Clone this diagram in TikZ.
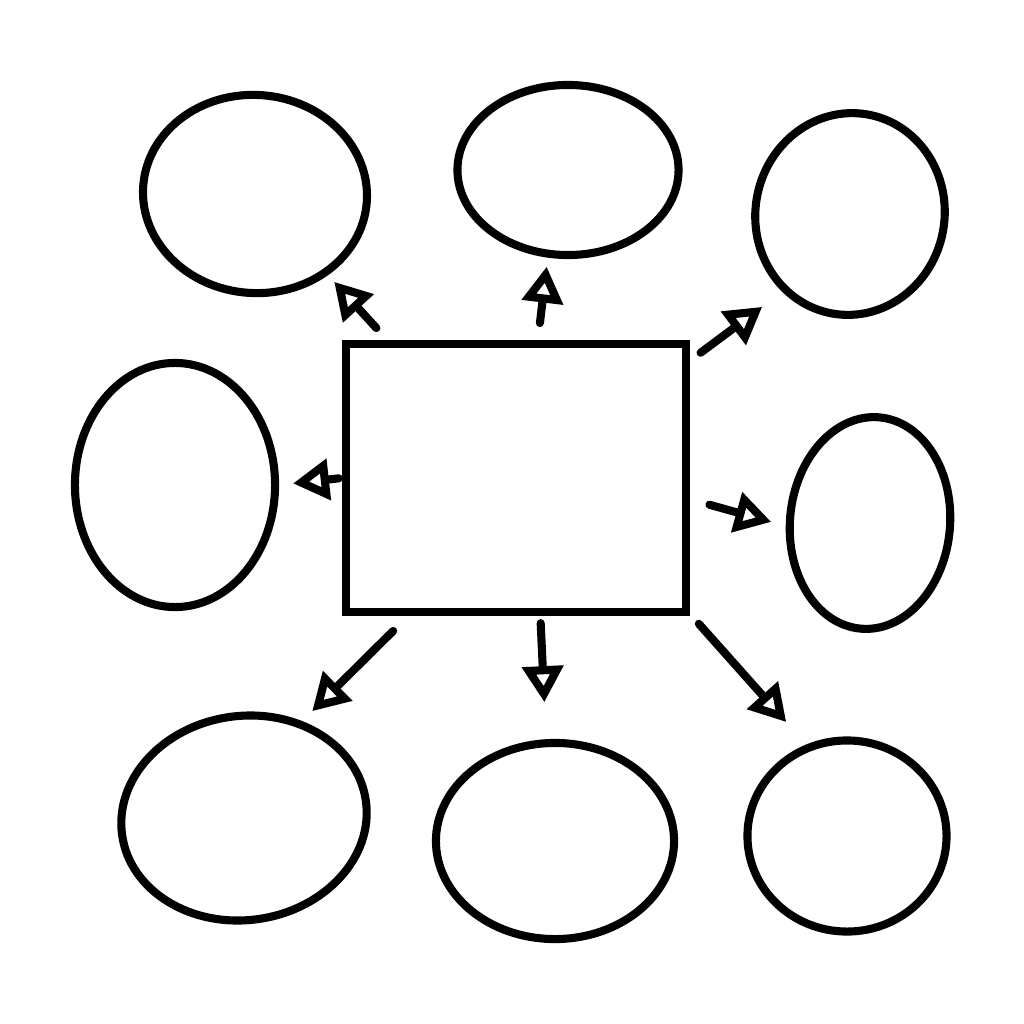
\documentclass[tikz,border=0pt]{standalone}
\usepackage{tikz}
\usetikzlibrary{shapes.geometric,arrows.meta}

\tikzset{
  blob/.style={draw,ellipse,line width=2.3pt,inner sep=0pt},
  centrebox/.style={draw,rectangle,line width=2.3pt,inner sep=0pt,minimum width=3.4cm,minimum height=2.68cm},
  pointer/.style={line width=2.3pt,line cap=round,line join=round,-{Triangle[open,length=3.6mm,width=4mm]}}
}

\begin{document}
\begin{tikzpicture}[x=0.01cm,y=-0.01cm]
\useasboundingbox (0,0) rectangle (1024,1024);

\node[centrebox] (box) at (516,478) {};

\node[blob,minimum width=2.24cm,minimum height=1.98cm,rotate=-4] (topleft) at (255,194) {};
\node[blob,minimum width=2.21cm,minimum height=1.70cm] (topmid) at (568,170) {};
\node[blob,minimum width=1.89cm,minimum height=2.02cm,rotate=-10] (topright) at (850,214) {};
\node[blob,minimum width=2.00cm,minimum height=2.44cm] (midleft) at (175,485) {};
\node[blob,minimum width=1.60cm,minimum height=2.12cm,rotate=-5] (midright) at (870,523) {};
\node[blob,minimum width=2.46cm,minimum height=2.04cm,rotate=8] (botleft) at (244,818) {};
\node[blob,minimum width=2.38cm,minimum height=1.96cm] (botmid) at (555,841) {};
\node[blob,minimum width=1.99cm,minimum height=1.91cm] (botright) at (847,836) {};

\draw[pointer,shorten <=0.16cm,shorten >=0.09cm] (box.133) -- (topleft.316); % box - top left
\draw[pointer,shorten <=0.17cm,shorten >=0.09cm] (box.81) -- (topmid.257); % box - top middle
\draw[pointer,shorten <=0.13cm,shorten >=0.25cm] (box.34) -- (topright.239); % box - top right
\draw[pointer,shorten <=0.03cm,shorten >=0.14cm] (box.180) -- (midleft.0); % box - middle left
\draw[pointer,shorten <=0.20cm,shorten >=0.15cm] (box.353) -- (midright.187); % box - middle right
\draw[pointer,shorten <=0.21cm,shorten >=0.14cm] (box.232) -- (botleft.51); % box - bottom left
\draw[pointer,shorten <=0.07cm,shorten >=0.37cm] (box.280) -- (botmid.95); % box - bottom middle
\draw[pointer,shorten <=0.13cm,shorten >=0.30cm] (box.322) -- (botright.114); % box - bottom right

\end{tikzpicture}
\end{document}
